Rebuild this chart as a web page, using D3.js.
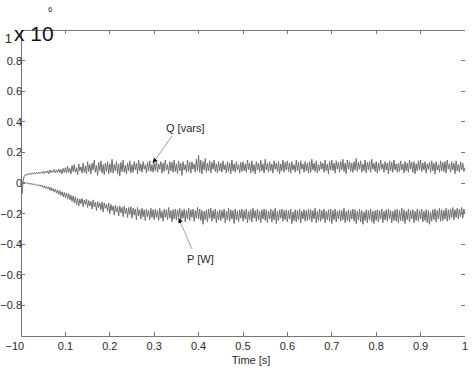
<!DOCTYPE html>
<html>
<head>
<meta charset="utf-8">
<script src="https://cdn.jsdelivr.net/npm/d3@7"></script>
<style>
  body { margin: 0; background: #fff; }
  svg { display: block; font-family: "Liberation Sans", Arial, sans-serif; }
</style>
</head>
<body>
<svg id="chart" width="474" height="372"></svg>
<script>
// time step of the sampled traces (s)
var dt = 0.0025;

// reactive power Q, in units of 10^6 vars (one row = 0.05 s)
var qValues = [
  0, -0.07, 0.02, 0.045, 0.055, 0.05, 0.06, 0.055, 0.065, 0.055, 0.065, 0.06, 0.07, 0.058, 0.068, 0.06, 0.072, 0.062, 0.07, 0.064,
  0.075, 0.062, 0.078, 0.065, 0.08, 0.06, 0.085, 0.068, 0.08, 0.07, 0.09, 0.065, 0.085, 0.07, 0.092, 0.068, 0.088, 0.06, 0.095, 0.07,
  0.1, 0.065, 0.11, 0.07, 0.095, 0.06, 0.115, 0.075, 0.12, 0.07, 0.1, 0.055, 0.125, 0.08, 0.105, 0.065, 0.13, 0.07, 0.11, 0.06,
  0.14, 0.075, 0.12, 0.06, 0.13, 0.085, 0.15, 0.07, 0.115, 0.05, 0.135, 0.08, 0.145, 0.065, 0.12, 0.055, 0.13, 0.075, 0.14, 0.06,
  0.125, 0.07, 0.155, 0.065, 0.12, 0.08, 0.14, 0.06, 0.125, 0.045, 0.135, 0.075, 0.15, 0.07, 0.115, 0.06, 0.13, 0.08, 0.145, 0.065,
  0.12, 0.07, 0.14, 0.085, 0.13, 0.06, 0.15, 0.08, 0.125, 0.07, 0.14, 0.09, 0.12, 0.065, 0.135, 0.08, 0.145, 0.075, 0.12, 0.07,
  0.13, 0.08, 0.145, 0.07, 0.125, 0.09, 0.14, 0.065, 0.13, 0.075, 0.15, 0.085, 0.12, 0.06, 0.14, 0.08, 0.135, 0.07, 0.15, 0.075,
  0.125, 0.06, 0.145, 0.08, 0.13, 0.05, 0.14, 0.085, 0.12, 0.07, 0.15, 0.075, 0.135, 0.065, 0.14, 0.09, 0.125, 0.07, 0.155, 0.08,
  0.18, 0.07, 0.15, 0.06, 0.14, 0.085, 0.16, 0.07, 0.13, 0.08, 0.145, 0.065, 0.135, 0.09, 0.15, 0.075, 0.125, 0.065, 0.14, 0.08,
  0.13, 0.07, 0.145, 0.085, 0.12, 0.065, 0.14, 0.075, 0.13, 0.06, 0.15, 0.08, 0.125, 0.07, 0.14, 0.085, 0.12, 0.065, 0.135, 0.075,
  0.14, 0.08, 0.125, 0.07, 0.15, 0.085, 0.13, 0.065, 0.145, 0.075, 0.12, 0.06, 0.14, 0.085, 0.13, 0.07, 0.15, 0.08, 0.125, 0.065,
  0.155, 0.085, 0.13, 0.07, 0.14, 0.08, 0.125, 0.065, 0.145, 0.09, 0.13, 0.075, 0.14, 0.06, 0.125, 0.08, 0.15, 0.07, 0.135, 0.085,
  0.145, 0.075, 0.13, 0.065, 0.14, 0.085, 0.12, 0.07, 0.15, 0.08, 0.135, 0.06, 0.145, 0.09, 0.125, 0.07, 0.14, 0.08, 0.13, 0.065,
  0.14, 0.07, 0.155, 0.085, 0.13, 0.075, 0.145, 0.065, 0.12, 0.08, 0.14, 0.09, 0.13, 0.07, 0.15, 0.08, 0.125, 0.06, 0.14, 0.085,
  0.15, 0.08, 0.13, 0.065, 0.145, 0.09, 0.135, 0.07, 0.14, 0.085, 0.155, 0.075, 0.13, 0.06, 0.15, 0.09, 0.14, 0.075, 0.13, 0.07,
  0.14, 0.085, 0.16, 0.075, 0.135, 0.09, 0.145, 0.07, 0.125, 0.08, 0.15, 0.065, 0.135, 0.085, 0.14, 0.07, 0.155, 0.09, 0.13, 0.075,
  0.14, 0.065, 0.13, 0.08, 0.15, 0.09, 0.125, 0.07, 0.14, 0.085, 0.13, 0.06, 0.145, 0.08, 0.135, 0.07, 0.15, 0.085, 0.125, 0.07,
  0.13, 0.075, 0.145, 0.085, 0.125, 0.065, 0.14, 0.08, 0.13, 0.07, 0.15, 0.09, 0.135, 0.07, 0.14, 0.06, 0.125, 0.08, 0.145, 0.085,
  0.15, 0.075, 0.13, 0.085, 0.14, 0.065, 0.125, 0.09, 0.135, 0.07, 0.145, 0.08, 0.13, 0.06, 0.14, 0.085, 0.12, 0.07, 0.145, 0.08,
  0.135, 0.075, 0.14, 0.065, 0.15, 0.09, 0.125, 0.07, 0.14, 0.085, 0.13, 0.06, 0.145, 0.08, 0.12, 0.07, 0.14, 0.085, 0.13, 0.075,
  0.1
];

// active power P, in units of 10^6 W (one row = 0.05 s)
var pValues = [
  0, 0.01, 0.002, 0.006, -0.002, 0.003, -0.005, 0, -0.008, -0.003, -0.01, -0.005, -0.013, -0.008, -0.016, -0.01, -0.02, -0.012, -0.022, -0.015,
  -0.03, -0.018, -0.035, -0.022, -0.04, -0.025, -0.048, -0.03, -0.052, -0.036, -0.06, -0.04, -0.066, -0.045, -0.075, -0.05, -0.08, -0.058, -0.09, -0.062,
  -0.095, -0.065, -0.105, -0.07, -0.11, -0.08, -0.12, -0.085, -0.13, -0.09, -0.14, -0.1, -0.15, -0.105, -0.135, -0.1, -0.155, -0.11, -0.14, -0.105,
  -0.16, -0.115, -0.15, -0.12, -0.17, -0.11, -0.155, -0.125, -0.18, -0.12, -0.16, -0.13, -0.175, -0.125, -0.19, -0.13, -0.165, -0.14, -0.185, -0.13,
  -0.2, -0.14, -0.18, -0.15, -0.21, -0.145, -0.19, -0.155, -0.215, -0.15, -0.195, -0.16, -0.22, -0.15, -0.2, -0.165, -0.225, -0.16, -0.205, -0.155,
  -0.23, -0.165, -0.21, -0.17, -0.24, -0.16, -0.215, -0.175, -0.235, -0.165, -0.22, -0.175, -0.245, -0.17, -0.22, -0.18, -0.24, -0.165, -0.225, -0.175,
  -0.24, -0.17, -0.225, -0.18, -0.245, -0.165, -0.23, -0.185, -0.25, -0.17, -0.225, -0.175, -0.24, -0.16, -0.23, -0.18, -0.255, -0.175, -0.235, -0.17,
  -0.24, -0.175, -0.225, -0.165, -0.25, -0.18, -0.23, -0.17, -0.255, -0.18, -0.235, -0.165, -0.245, -0.175, -0.225, -0.17, -0.25, -0.18, -0.23, -0.16,
  -0.235, -0.17, -0.245, -0.18, -0.27, -0.185, -0.24, -0.175, -0.255, -0.17, -0.23, -0.165, -0.25, -0.18, -0.235, -0.17, -0.26, -0.185, -0.24, -0.175,
  -0.245, -0.18, -0.23, -0.17, -0.26, -0.185, -0.24, -0.165, -0.25, -0.175, -0.235, -0.18, -0.265, -0.17, -0.24, -0.185, -0.255, -0.175, -0.23, -0.17,
  -0.25, -0.18, -0.235, -0.17, -0.26, -0.185, -0.24, -0.175, -0.255, -0.165, -0.23, -0.18, -0.25, -0.17, -0.24, -0.185, -0.26, -0.175, -0.235, -0.17,
  -0.245, -0.175, -0.26, -0.185, -0.235, -0.17, -0.255, -0.18, -0.24, -0.165, -0.265, -0.185, -0.245, -0.175, -0.23, -0.17, -0.25, -0.18, -0.24, -0.175,
  -0.255, -0.18, -0.235, -0.17, -0.265, -0.19, -0.245, -0.175, -0.255, -0.18, -0.24, -0.17, -0.26, -0.185, -0.235, -0.175, -0.25, -0.18, -0.245, -0.17,
  -0.24, -0.175, -0.255, -0.18, -0.235, -0.165, -0.26, -0.185, -0.245, -0.17, -0.25, -0.18, -0.235, -0.17, -0.26, -0.185, -0.24, -0.175, -0.25, -0.17,
  -0.265, -0.18, -0.24, -0.17, -0.255, -0.185, -0.235, -0.175, -0.25, -0.18, -0.24, -0.165, -0.26, -0.185, -0.245, -0.175, -0.255, -0.18, -0.235, -0.17,
  -0.25, -0.175, -0.265, -0.185, -0.24, -0.17, -0.255, -0.18, -0.27, -0.19, -0.245, -0.175, -0.26, -0.18, -0.24, -0.17, -0.255, -0.185, -0.265, -0.18,
  -0.245, -0.175, -0.255, -0.18, -0.235, -0.17, -0.26, -0.185, -0.24, -0.175, -0.25, -0.17, -0.235, -0.18, -0.26, -0.185, -0.245, -0.175, -0.25, -0.17,
  -0.26, -0.18, -0.245, -0.165, -0.25, -0.175, -0.265, -0.185, -0.24, -0.17, -0.255, -0.18, -0.235, -0.175, -0.26, -0.185, -0.245, -0.17, -0.25, -0.18,
  -0.235, -0.17, -0.255, -0.185, -0.245, -0.175, -0.26, -0.18, -0.27, -0.19, -0.25, -0.175, -0.24, -0.17, -0.255, -0.18, -0.235, -0.165, -0.25, -0.175,
  -0.245, -0.18, -0.235, -0.165, -0.25, -0.175, -0.24, -0.17, -0.225, -0.16, -0.24, -0.175, -0.225, -0.165, -0.235, -0.17, -0.22, -0.16, -0.23, -0.17,
  -0.2
];

var xTicks = [0, 0.1, 0.2, 0.3, 0.4, 0.5, 0.6, 0.7, 0.8, 0.9, 1];
var yTicks = [-1, -0.8, -0.6, -0.4, -0.2, 0, 0.2, 0.4, 0.6, 0.8, 1];

var svg = d3.select("#chart"),
  plotLeft = 21,
  plotRight = 465,
  plotTop = 30,
  plotBottom = 336,
  axisColor = "#777",
  textColor = "#2a2a2a";

var x = d3.scaleLinear().domain([0, 1]).range([plotLeft, plotRight]);
var y = d3.scaleLinear().domain([-1, 1]).range([plotBottom, plotTop]);

// frame: left, bottom and top lines (no right line in the original)
var frame = svg.append("g").attr("stroke", axisColor).attr("stroke-width", 1).attr("shape-rendering", "crispEdges");
frame.append("line").attr("x1", plotLeft).attr("x2", plotLeft).attr("y1", plotTop).attr("y2", plotBottom);
frame.append("line").attr("x1", plotLeft).attr("x2", plotRight).attr("y1", plotBottom).attr("y2", plotBottom);
frame.append("line").attr("x1", plotLeft).attr("x2", plotRight).attr("y1", plotTop).attr("y2", plotTop);

// inward ticks on all four sides
var innerX = xTicks.slice(1, -1), innerY = yTicks.slice(1, -1);
frame.append("g").selectAll("line").data(innerX).enter().append("line")
  .attr("x1", d => x(d)).attr("x2", d => x(d))
  .attr("y1", plotBottom).attr("y2", plotBottom - 4);
frame.append("g").selectAll("line").data(innerX).enter().append("line")
  .attr("x1", d => x(d)).attr("x2", d => x(d))
  .attr("y1", plotTop).attr("y2", plotTop + 4);
frame.append("g").selectAll("line").data(innerY).enter().append("line")
  .attr("x1", plotLeft).attr("x2", plotLeft + 4)
  .attr("y1", d => y(d)).attr("y2", d => y(d));
frame.append("g").selectAll("line").data(innerY).enter().append("line")
  .attr("x1", plotRight).attr("x2", plotRight - 4)
  .attr("y1", d => y(d)).attr("y2", d => y(d));

// tick labels
var fmt = d => (d === 0 ? "0" : d3.format("")(d));
svg.append("g").selectAll("text").data(xTicks).enter().append("text")
  .attr("x", d => x(d)).attr("y", plotBottom + 14)
  .attr("text-anchor", "middle").attr("font-size", 11).attr("fill", textColor)
  .text(fmt);
svg.append("g").selectAll("text").data(yTicks).enter().append("text")
  .attr("x", d => (d === -1 ? plotLeft - 3 : d === 1 ? 12 : plotLeft + 1))
  .attr("y", d => (d === 1 ? y(d) + 13 : d === -1 ? plotBottom + 14 : y(d) + 4))
  .attr("text-anchor", "end").attr("font-size", d => (d === 1 ? 13 : 11)).attr("fill", textColor)
  .text(fmt);

// exponent
svg.append("text").attr("x", 14).attr("y", 41).attr("font-size", 21).attr("fill", "#111").text("x 10");
svg.append("text").attr("x", 48).attr("y", 12).attr("font-size", 8).attr("fill", textColor).text("6");

svg.append("text").attr("x", 251).attr("y", 364)
  .attr("text-anchor", "middle").attr("font-size", 11).attr("fill", textColor).text("Time [s]");

// traces
var line = d3.line().x((d, i) => x(i * dt)).y(d => y(d));
svg.append("path").datum(qValues).attr("d", line)
  .attr("fill", "none").attr("stroke", "#707070").attr("stroke-width", 1);
svg.append("path").datum(pValues).attr("d", line)
  .attr("fill", "none").attr("stroke", "#707070").attr("stroke-width", 1);

// annotations with arrows
svg.append("defs").append("marker")
  .attr("id", "arrow").attr("viewBox", "0 0 10 10").attr("refX", 9).attr("refY", 5)
  .attr("markerWidth", 7).attr("markerHeight", 7).attr("orient", "auto")
  .append("path").attr("d", "M0,1 L10,5 L0,9 Z").attr("fill", "#111");

svg.append("text").attr("x", 166).attr("y", 132).attr("font-size", 11).attr("fill", textColor).text("Q [vars]");
svg.append("line").attr("x1", 172).attr("y1", 136).attr("x2", x(0.297)).attr("y2", y(0.13))
  .attr("stroke", "#888").attr("stroke-width", 0.8).attr("marker-end", "url(#arrow)");

svg.append("text").attr("x", 187).attr("y", 263).attr("font-size", 11).attr("fill", textColor).text("P [W]");
svg.append("line").attr("x1", 192).attr("y1", 249).attr("x2", x(0.355)).attr("y2", y(-0.23))
  .attr("stroke", "#888").attr("stroke-width", 0.8).attr("marker-end", "url(#arrow)");
</script>
</body>
</html>
